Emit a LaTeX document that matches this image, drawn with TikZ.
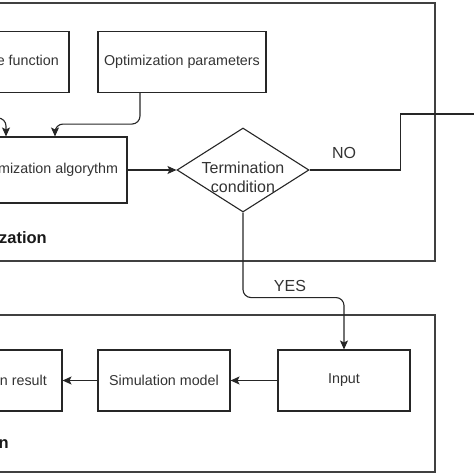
\documentclass[tikz,border=0pt]{standalone}
\usepackage{fontspec}
\setmainfont{Liberation Sans}
\usetikzlibrary{arrows.meta,shapes.geometric}
\tikzset{
	proc/.style={draw=black!85, line width=1.1pt, text=black!80, inner sep=0pt, minimum height=61pt, font=\fontsize{14.3}{17}\selectfont},
	cond/.style={draw=black!85, line width=1.1pt, shape=diamond, aspect=1.57, inner sep=0pt, minimum width=132pt, minimum height=84pt},
	grp/.style={draw=black!75, line width=1.4pt},
	conn/.style={draw=black!85, line width=1.1pt},
	flow/.style={conn, rounded corners=8pt, -{Stealth[length=9pt,width=8pt,inset=2pt]}},
	note/.style={text=black!80, font=\fontsize{16}{19}\selectfont, inner sep=0pt},
	grptitle/.style={text=black!90, font=\bfseries\fontsize{16.5}{19}\selectfont, inner sep=0pt, anchor=base east}
}

\begin{document}
\begin{tikzpicture}[x=1pt, y=-1pt]
		%%%%% START %%%%%
		\useasboundingbox (0, 0) rectangle (474, 474);
		\clip (0, 0) rectangle (474, 474);
		
		\draw[grp] (-160, 3) rectangle (435, 261);
		\draw[grp] (-160, 315) rectangle (435, 472);
		\node[grptitle] (optt) at (47, 243) {Optimization};
		\node[grptitle] (simt) at (9, 448) {Simulation};
		
		\node[proc, minimum width=134pt] (obj) at (2, 62) {Objective function};
		\node[proc, minimum width=168pt] (par) at (182, 62) {Optimization parameters};
		\node[proc, minimum width=164pt, minimum height=66pt] (alg) at (45, 170) {Optimization algorythm};
		\node[cond] (dec) at (243, 170) {};
		\node[note, align=center] (dect) at (243, 177) {Termination\\condition};
		
		\node[proc, minimum width=132pt] (inp) at (344, 380.5) {Input};
		\node[proc, minimum width=132pt] (sim) at (164, 380.5) {Simulation model};
		\node[proc, minimum width=136pt] (res) at (-6, 380.5) {Simulation result};
		
		\coordinate (init) at (-30, 118);
		\coordinate (back) at (490, 114);
		
		\draw[flow] (init) -| ([xshift=-39pt]alg.north);
		\draw[flow] ([xshift=-42pt]par.south) -- ++(0, 31) -| ([xshift=10pt]alg.north);
		\draw[flow] (alg.east) -- (dec.west);
		\draw[conn] (dec.east) -- ++(91, 0) |- (back);
		\node[note] (no) at (344, 153) {NO};
		
		\draw[flow] (dec.south) -- ++(0, 85) -| (inp.north);
		\node[note] (yes) at (290, 286) {YES};
		\draw[flow] (inp.west) -- (sim.east);
		\draw[flow] (sim.west) -- (res.east);
		%%%%% END %%%%%
\end{tikzpicture}
\end{document}
